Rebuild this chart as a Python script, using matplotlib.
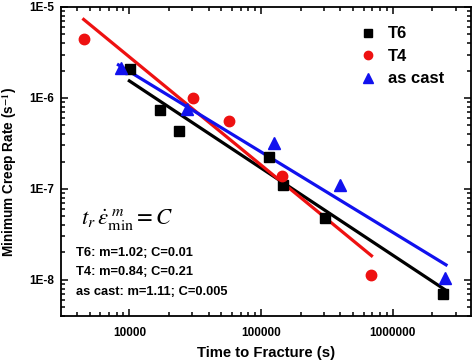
import matplotlib
matplotlib.use("Agg")
import matplotlib.pyplot as plt
from matplotlib.ticker import LogLocator, NullFormatter, FixedLocator, FixedFormatter

plt.rcParams['font.family'] = ['Liberation Sans', 'DejaVu Sans']
plt.rcParams['mathtext.fontset'] = 'stix'

# measured points (time to fracture in s, min creep rate in 1/s)
t6_t = [1.01e4, 1.71e4, 2.38e4, 1.15e5, 1.46e5, 3.06e5, 2.4e6]
t6_e = [2.1e-6, 7.4e-7, 4.3e-7, 2.25e-7, 1.09e-7, 4.77e-8, 6.97e-9]

t4_t = [4.53e3, 3.06e4, 5.68e4, 1.44e5, 6.84e5]
t4_e = [4.45e-6, 1.0e-6, 5.64e-7, 1.40e-7, 1.13e-8]

cast_t = [8.65e3, 2.75e4, 1.26e5, 3.99e5, 2.5e6]
cast_e = [2.14e-6, 7.5e-7, 3.18e-7, 1.09e-7, 1.05e-8]

# fitted lines (end points)
t6_fit_t = [1.0e4, 2.5e6]
t6_fit_e = [1.54e-6, 7.76e-9]
t4_fit_t = [4.5e3, 6.9e5]
t4_fit_e = [7.3e-6, 1.84e-8]
cast_fit_t = [8.26e3, 2.54e6]
cast_fit_e = [2.31e-6, 1.46e-8]

fit_lines = ["T6: m=1.02; C=0.01", "T4: m=0.84; C=0.21", "as cast: m=1.11; C=0.005"]
y_ticks = [1e-8, 1e-7, 1e-6, 1e-5]
y_labels = ["1E-8", "1E-7", "1E-6", "1E-5"]
x_ticks = [1e4, 1e5, 1e6]
x_labels = ["10000", "100000", "1000000"]

W, H = 474, 363
fig = plt.figure(figsize=(W / 100, H / 100), dpi=100)
ax = fig.add_axes([61 / W, 1 - 316 / H, 410 / W, 309 / H])

lw = 2.3
ax.plot(t6_fit_t, t6_fit_e, color='black', lw=lw, zorder=2)
ax.plot(t4_fit_t, t4_fit_e, color='#ee1111', lw=lw, zorder=2)
ax.plot(cast_fit_t, cast_fit_e, color='#1111ee', lw=lw, zorder=2)

ax.plot(t6_t, t6_e, 's', color='black', ms=7, ls='none', label='T6', zorder=3)
ax.plot(t4_t, t4_e, 'o', color='#ee1111', ms=7.5, ls='none', label='T4', zorder=3)
ax.plot(cast_t, cast_e, '^', color='#1111ee', ms=8.5, ls='none', label='as cast', zorder=3)

ax.set_xscale('log')
ax.set_yscale('log')
ax.set_xlim(3027, 3.93e6)
ax.set_ylim(4.0e-9, 1.0e-5)

ax.xaxis.set_major_locator(FixedLocator(x_ticks))
ax.xaxis.set_major_formatter(FixedFormatter(x_labels))
ax.xaxis.set_minor_locator(LogLocator(base=10, subs=range(2, 10)))
ax.xaxis.set_minor_formatter(NullFormatter())
ax.yaxis.set_major_locator(FixedLocator(y_ticks))
ax.yaxis.set_major_formatter(FixedFormatter(y_labels))
ax.yaxis.set_minor_locator(LogLocator(base=10, subs=range(2, 10)))
ax.yaxis.set_minor_formatter(NullFormatter())

ax.tick_params(which='both', direction='in', top=True, right=True, width=1.1)
ax.tick_params(which='major', length=5, labelsize=8.5, pad=5)
ax.tick_params(which='minor', length=3)
ax.tick_params(axis='x', which='major', pad=8)
for lab in ax.get_xticklabels() + ax.get_yticklabels():
    lab.set_fontweight('bold')
for sp in ax.spines.values():
    sp.set_linewidth(1.3)

ax.set_xlabel('Time to Fracture (s)', fontsize=10.7, fontweight='bold', labelpad=5)
ax.set_ylabel('Minimum Creep Rate (s$^{\\mathbf{-1}}$)', fontsize=9.8, fontweight='bold')
ax.yaxis.set_label_coords((19 - 61) / 410, (316 - 172) / 309)

leg = ax.legend(loc='upper left', bbox_to_anchor=(0.7285, 0.937), frameon=False,
                fontsize=12, handletextpad=0.7, labelspacing=0.45, handlelength=1.0,
                borderaxespad=0, borderpad=0, markerscale=0.8)
for txt in leg.get_texts():
    txt.set_fontweight('bold')

fig.text(81 / W, 1 - 225 / H, r'$t_r\,\dot{\varepsilon}_{\mathrm{min}}^{\ m} = C$',
         fontsize=16.4, va='baseline', ha='left')
for i, s in enumerate(fit_lines):
    fig.text(76 / W, 1 - (253 + 19.3 * i) / H, s, fontsize=9.3, fontweight='bold',
             va='center', ha='left')

fig.savefig('out.png', dpi=100)
